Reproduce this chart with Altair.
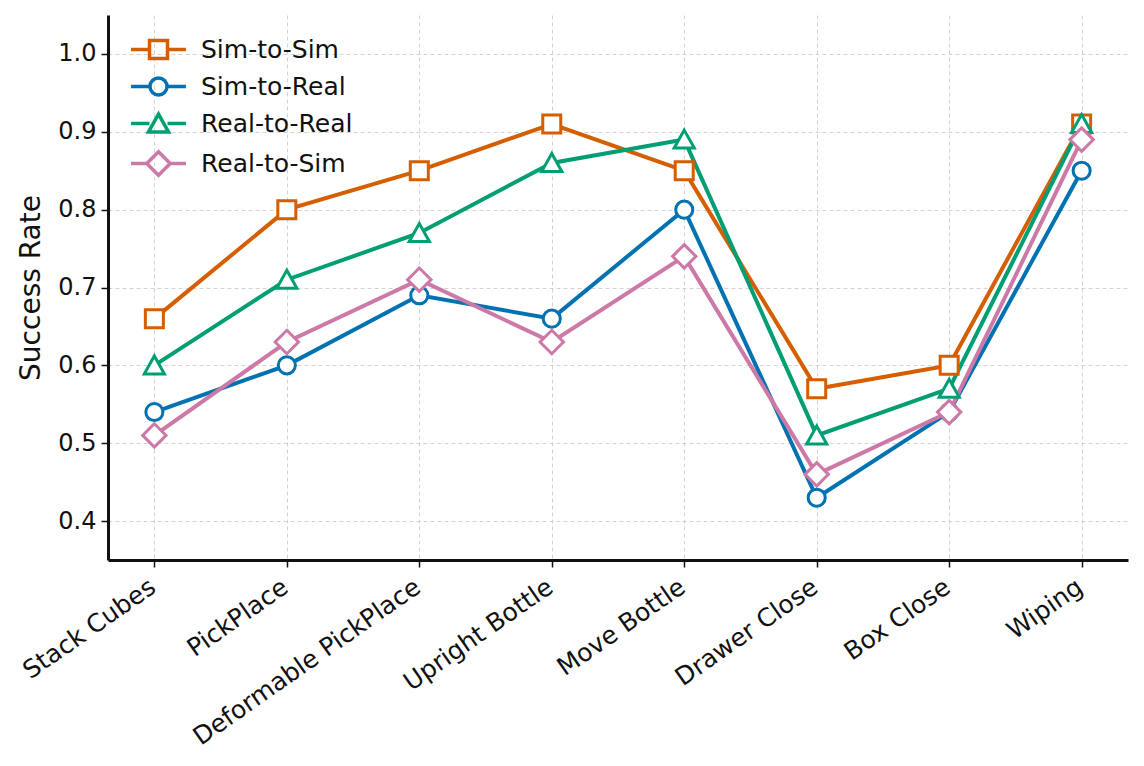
import altair as alt
import pandas as pd

tasks = ["Stack Cubes", "PickPlace", "Deformable PickPlace", "Upright Bottle",
         "Move Bottle", "Drawer Close", "Box Close", "Wiping"]
series_names = ["Sim-to-Sim", "Sim-to-Real", "Real-to-Real", "Real-to-Sim"]
sim_to_sim = [0.66, 0.80, 0.85, 0.91, 0.85, 0.57, 0.60, 0.91]
sim_to_real = [0.54, 0.60, 0.69, 0.66, 0.80, 0.43, 0.54, 0.85]
real_to_real = [0.60, 0.71, 0.77, 0.86, 0.89, 0.51, 0.57, 0.91]
real_to_sim = [0.51, 0.63, 0.71, 0.63, 0.74, 0.46, 0.54, 0.89]
colors = ["#D55E00", "#0072B2", "#009E73", "#CC79A7"]

rows = []
for s_i, (name, vals) in enumerate(zip(series_names, [sim_to_sim, sim_to_real, real_to_real, real_to_sim])):
    for t_i, (t, v) in enumerate(zip(tasks, vals)):
        rows.append({"task": t, "series": name, "value": v, "order": s_i})
df = pd.DataFrame(rows)

# marker shapes (unit = sqrt(size)/2)
sq = "M-1,-1H1V1H-1Z"
ci = "M0.95,0A0.95,0.95 0 1,1 -0.95,0A0.95,0.95 0 1,1 0.95,0Z"
tr = "M0,-1.05L1.12,0.95L-1.12,0.95Z"
di = "M0,-1.3L1.3,0L0,1.3L-1.3,0Z"
shapes = [sq, ci, tr, di]
# legend shapes with line stubs on both sides
leg_shapes = [
    "M-3.05,0H-1M1,0H3.05" + sq,
    "M-3.05,0H-0.95M0.95,0H3.05" + ci,
    "M-3.05,0H-1.0M1.0,0H3.05" + tr,
    "M-3.05,0H-1.3M1.3,0H3.05" + di,
]

FONT = "DejaVu Sans"

x_enc = alt.X("task:N", sort=tasks,
              scale=alt.Scale(type="point", padding=0.35),
              axis=alt.Axis(title=None, labelAngle=325, labelAlign="right",
                            labelBaseline="top", labelPadding=7, labelLimit=0,
                            labelOffset=-9, labelFontSize=25))
y_enc = alt.Y("value:Q", scale=alt.Scale(domain=[0.35, 1.05], nice=False, zero=False),
              axis=alt.Axis(title="Success Rate", values=[0.4, 0.5, 0.6, 0.7, 0.8, 0.9, 1.0],
                            format=".1f", titleFontSize=28, titleFontWeight="normal",
                            titlePadding=12, labelPadding=5))

color_scale = alt.Scale(domain=series_names, range=colors)

base = alt.Chart(df)

lines = base.mark_line(strokeWidth=4).encode(
    x=x_enc, y=y_enc,
    color=alt.Color("series:N", scale=color_scale, legend=None),
    detail="series:N",
    order=alt.Order("order:Q"),
)

points = base.mark_point(size=324, filled=False, fill="white", fillOpacity=1,
                         strokeWidth=3, opacity=1).encode(
    x=x_enc, y=y_enc,
    color=alt.Color("series:N", scale=color_scale, legend=None),
    shape=alt.Shape("series:N", scale=alt.Scale(domain=series_names, range=shapes), legend=None),
    order=alt.Order("order:Q"),
)

leg = alt.Legend(title=None, orient="none", legendX=38, legendY=22,
                 symbolSize=324, symbolStrokeWidth=3.5, symbolOpacity=1,
                 labelFontSize=25, labelFont=FONT, labelColor="#111111",
                 labelOffset=30, rowPadding=4, padding=0,
                 symbolFillColor="white")

legend_layer = base.mark_point(size=324, filled=False, opacity=0, strokeWidth=3).encode(
    x=x_enc, y=y_enc,
    color=alt.Color("series:N", scale=color_scale, legend=leg),
    shape=alt.Shape("series:N", scale=alt.Scale(domain=series_names, range=leg_shapes), legend=leg),
)

chart = alt.layer(lines, points, legend_layer).resolve_scale(
    color="independent", shape="independent"
).properties(
    width=1020, height=545,
    autosize=alt.AutoSizeParams(type="none"),
    padding={"left": 100, "top": 7, "right": 8, "bottom": 190},
    background="white",
).configure_view(stroke=None).configure_axis(
    labelFont=FONT, titleFont=FONT, labelFontSize=24, labelColor="#111111",
    titleColor="#111111",
    domainColor="#111111", domainWidth=3, tickColor="#111111", tickWidth=1.5, tickSize=7,
    grid=True, gridColor="#c8c8c8", gridDash=[4, 3], gridWidth=0.8,
)

chart.save("out.html", embed_options={"renderer": "svg", "actions": False})
